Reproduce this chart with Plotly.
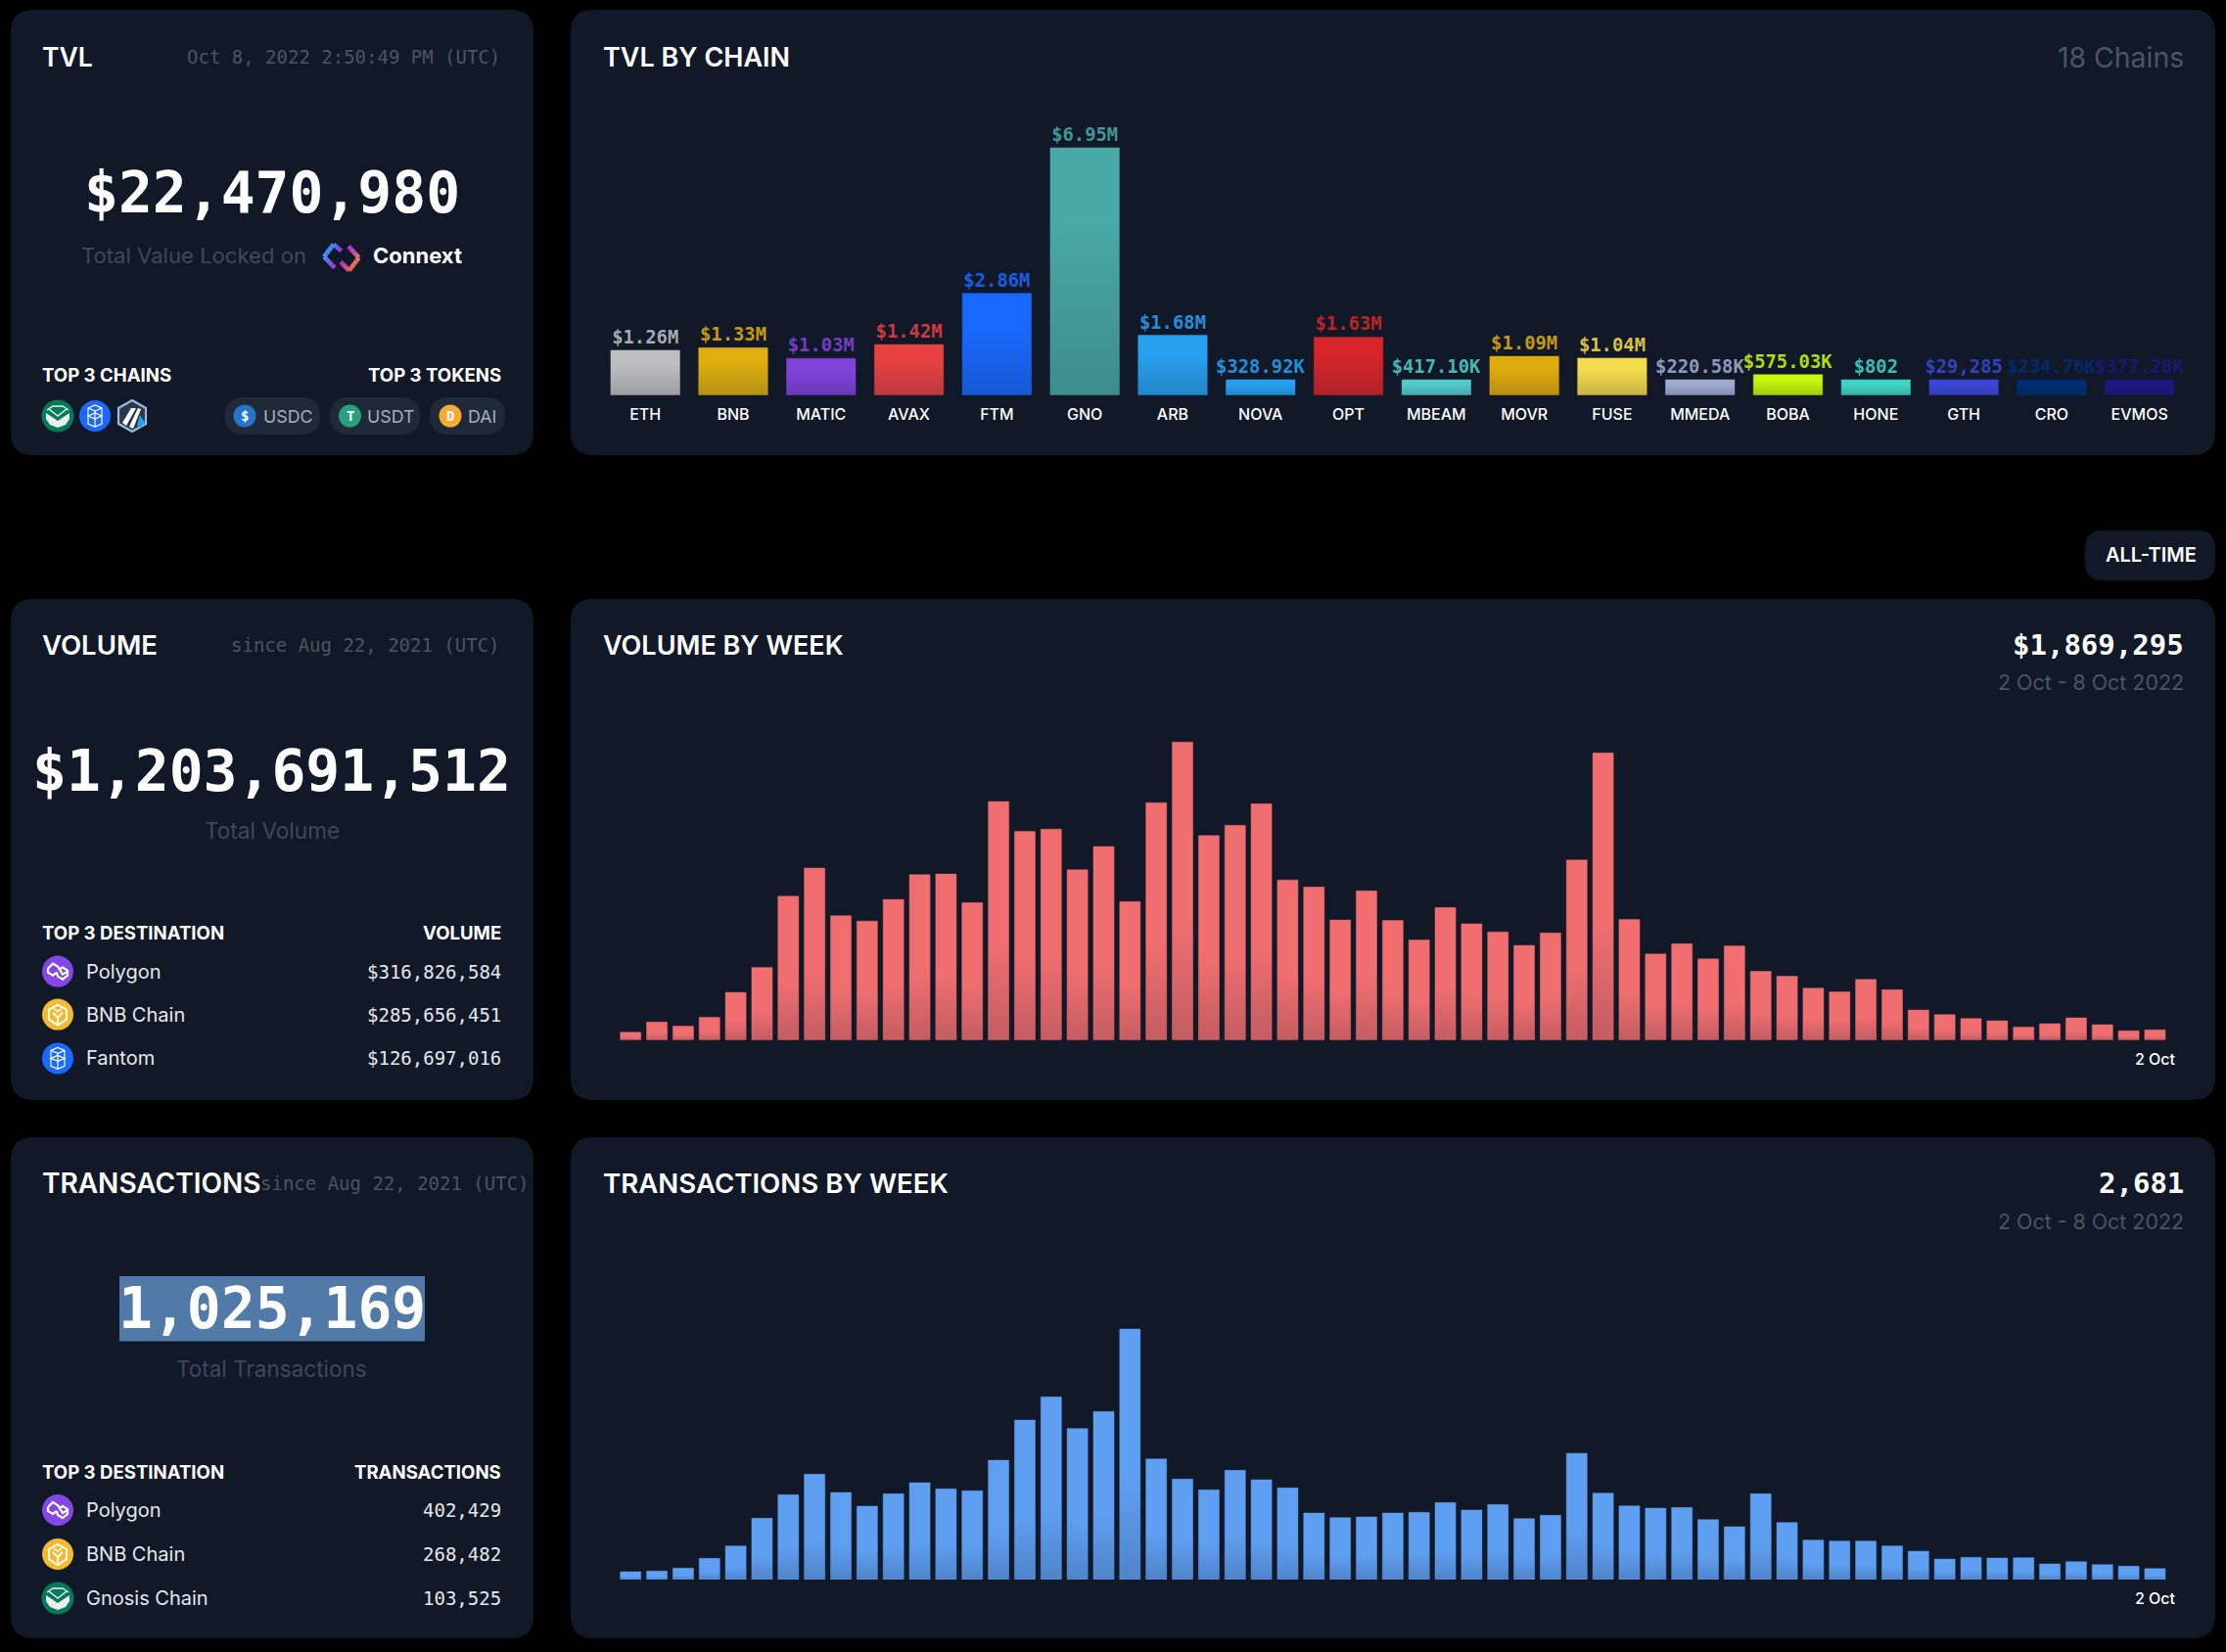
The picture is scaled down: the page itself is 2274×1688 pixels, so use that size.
import plotly.graph_objects as go
import pandas as pd

# ---------- data ----------
chain_names = ["ETH","BNB","MATIC","AVAX","FTM","GNO","ARB","NOVA","OPT","MBEAM","MOVR","FUSE","MMEDA","BOBA","HONE","GTH","CRO","EVMOS"]
chain_values = [1260000,1330000,1030000,1420000,2860000,6950000,1680000,328920,1630000,417100,1090000,1040000,220580,575030,802,29285,234760,377280]
chain_labels = ["$1.26M","$1.33M","$1.03M","$1.42M","$2.86M","$6.95M","$1.68M","$328.92K","$1.63M","$417.10K","$1.09M","$1.04M","$220.58K","$575.03K","$802","$29,285","$234.76K","$377.28K"]
chain_colors = ["#BEBFC1","#E0AE0F","#7F43DC","#E84142","#1969FF","#48A9A6","#28A0F0","#28A0F0","#D6252A","#53CBC9","#E0AB0D","#F4DB4C","#A0ADD3","#C6F70C","#3FD5C4","#3A47D5","#002D74","#1F1680"]
MIN_BAR_VALUE = 432000

week_starts = [d.strftime("%Y-%m-%d") for d in pd.date_range("2021-08-22", "2022-10-02", freq="7D")]
volume_millions = [1.45,3.32,2.59,4.22,8.80,13.45,26.6,31.8,23.0,22.0,26.0,30.6,30.7,25.4,44.1,38.6,39.0,31.5,35.8,25.6,43.9,55.1,37.8,39.7,43.7,29.6,28.3,22.2,27.6,22.1,18.5,24.5,21.5,20.0,17.5,19.8,33.3,53.1,22.3,15.9,17.8,15.0,17.4,12.7,11.8,9.6,8.9,11.2,9.3,5.55,4.70,3.98,3.56,2.41,3.02,4.10,2.83,1.69,1.87]
transactions = [1892,2050,2760,5125,8122,14824,20501,25469,21053,17741,20738,23418,21920,21447,28859,38558,44156,36507,40608,60557,29175,24286,21684,26415,24128,22157,16085,14982,15139,16085,16243,18609,16795,18136,14745,15533,30515,20895,17820,17268,17426,14508,12774,20738,13799,9541,9304,9304,8122,6860,4968,5362,5204,5283,3785,4337,3627,3233,2681]
week_tick_vals = ["2022-10-02"]
week_tick_text = ["2 Oct"]

W, H = 2274, 1688
BG = "#000000"; PANEL = "#111827"; PILL = "#1F2937"
MUTED = "#3F4959"; DATE = "#4B5563"; WHITE = "#FFFFFF"; SOFT = "#E5E7EB"
SANS = "Inter"; MONO = "DejaVu Sans Mono"


def fx(x): return x / W
def fy(y): return 1 - y / H


def rrect(x0, y0, x1, y1, r):
    pts = [("M", x0 + r, y0), ("L", x1 - r, y0), ("Q", x1, y0, x1, y0 + r), ("L", x1, y1 - r),
           ("Q", x1, y1, x1 - r, y1), ("L", x0 + r, y1), ("Q", x0, y1, x0, y1 - r), ("L", x0, y0 + r),
           ("Q", x0, y0, x0 + r, y0)]
    out = []
    for p in pts:
        vals = p[1:]
        coords = []
        for i in range(0, len(vals), 2):
            coords.append(f"{fx(vals[i]):.6f},{fy(vals[i + 1]):.6f}")
        out.append(p[0] + " ".join(coords))
    return " ".join(out) + " Z"


def poly(points, closed=False):
    s = "M" + " L".join(f"{fx(a):.6f},{fy(b):.6f}" for a, b in points)
    return s + (" Z" if closed else "")


shapes, annos = [], []


def card(x0, y0, x1, y1, r=23, color=PANEL):
    shapes.append(dict(type="path", xref="paper", yref="paper", path=rrect(x0, y0, x1, y1, r), fillcolor=color,
                       line=dict(width=0), layer="below"))


def disc(cx, cy, r, color, layer="above"):
    shapes.append(dict(type="circle", xref="paper", yref="paper", x0=fx(cx - r), x1=fx(cx + r), y0=fy(cy + r),
                       y1=fy(cy - r), fillcolor=color, line=dict(width=0), layer=layer))


def stroke(points, color, w=1.5, closed=False, fill=None):
    d = dict(type="path", xref="paper", yref="paper", path=poly(points, closed), line=dict(color=color, width=w), layer="above")
    if fill:
        d["fillcolor"] = fill
    shapes.append(d)


def text(x, y, s, size, color=WHITE, anchor="left", family=SANS, weight=400):
    annos.append(dict(xref="paper", yref="paper", x=fx(x), y=fy(y), text=s, showarrow=False, xanchor=anchor,
                      yanchor="middle", borderpad=0, borderwidth=0,
                      font=dict(size=size, color=color, family=family, weight=weight)))


def rel(cx, cy, pts, k=1.0):
    return [(cx + a * k, cy + b * k) for a, b in pts]


def ic_polygon(cx, cy):
    disc(cx, cy, 16, "#8247E5")
    stroke(rel(cx, cy, [(-10, -3), (-5, -8), (0, -5), (5, 3), (10, 0)]), WHITE, 2.2)
    stroke(rel(cx, cy, [(-10, -3), (-10, 1), (-5, 4), (-1, 1)]), WHITE, 2.2)
    stroke(rel(cx, cy, [(1, -2), (5, -4), (10, -1), (10, 4), (5, 8), (0, 5), (-1, 1)]), WHITE, 2.2)


def ic_bnb(cx, cy):
    disc(cx, cy, 16, "#F3BA2F")
    stroke(rel(cx, cy, [(0, -10), (9, -5), (9, 5), (0, 11), (-9, 5), (-9, -5)]), WHITE, 2, closed=True)
    stroke(rel(cx, cy, [(-5, -2), (0, 3), (5, -2)]), WHITE, 2)
    stroke(rel(cx, cy, [(0, 3), (0, 9)]), WHITE, 2)
    stroke(rel(cx, cy, [(-4, -6), (0, -3), (4, -6)]), WHITE, 1.5)


def ic_fantom(cx, cy):
    disc(cx, cy, 16, "#1969FF")
    stroke(rel(cx, cy, [(-7, -8), (0, -11), (7, -8), (7, 8), (0, 11), (-7, 8)]), WHITE, 1.2, closed=True)
    stroke(rel(cx, cy, [(-7, -8), (0, -5), (7, -8)]), WHITE, 1.2)
    stroke(rel(cx, cy, [(-7, 0), (0, -3), (7, 0), (0, 3)]), WHITE, 1.2, closed=True)
    stroke(rel(cx, cy, [(0, -5), (0, 11)]), WHITE, 1.2)


def ic_gnosis(cx, cy):
    disc(cx, cy, 16.5, "#04795B")
    shapes.append(dict(type="path", xref="paper", yref="paper", layer="above", fillcolor="#EDEFEC", line=dict(width=0),
                       path=poly(rel(cx, cy, [(-12, -3), (-6, 1), (0, 5), (6, 1), (12, -3), (12, 3), (8, 9), (0, 12), (-8, 9), (-12, 3)]), True)))
    stroke(rel(cx, cy, [(-11, -6), (-5, -10), (5, -10), (11, -6)]), "#EDEFEC", 1.3)
    stroke(rel(cx, cy, [(-9, -7), (0, 0), (9, -7)]), "#EDEFEC", 1.4)


def ic_arb(cx, cy):
    pts = [(0, -16), (14, -8), (14, 8), (0, 16), (-14, 8), (-14, -8)]
    stroke(rel(cx, cy, pts), "#96BEDC", 2.2, closed=True, fill="#2D374B")
    shapes.append(dict(type="path", xref="paper", yref="paper", layer="above", fillcolor="#FFFFFF", line=dict(width=0),
                       path=poly(rel(cx, cy, [(-10, 7), (-1, -8), (4, -8), (-6, 10)]), True)))
    shapes.append(dict(type="path", xref="paper", yref="paper", layer="above", fillcolor="#FFFFFF", line=dict(width=0),
                       path=poly(rel(cx, cy, [(-3, 11), (6, -8), (9, -7), (1, 13)]), True)))
    shapes.append(dict(type="path", xref="paper", yref="paper", layer="above", fillcolor="#28A0F0", line=dict(width=0),
                       path=poly(rel(cx, cy, [(5, 10), (8, -1), (13, 7), (9, 12)]), True)))


def ic_token(cx, cy, color, glyph):
    disc(cx, cy, 11.5, color)
    text(cx, cy + 0.5, glyph, 14, WHITE, "center", MONO, 700)


def connext_logo():
    def mix(a, b, t):
        return "#%02x%02x%02x" % tuple(int(a[i] + (b[i] - a[i]) * t) for i in range(3))
    def grad(p0, p1, c0, c1, n=4):
        for i in range(n):
            a, b = i / n, (i + 1) / n
            stroke([(p0[0] + (p1[0] - p0[0]) * a, p0[1] + (p1[1] - p0[1]) * a),
                    (p0[0] + (p1[0] - p0[0]) * b, p0[1] + (p1[1] - p0[1]) * b)], mix(c0, c1, (a + b) / 2), 4.6)
    P = lambda a, b: (310 + a / 3, 235 + b / 3)
    blue, blue2, pur, ora = (62, 140, 250), (70, 150, 255), (175, 45, 235), (235, 110, 80)
    grad(P(116, 64), P(92, 44), pur, blue)
    grad(P(92, 44), P(63, 82), blue, blue2)
    grad(P(63, 82), P(96, 116), blue2, pur)
    grad(P(138, 50), P(170, 85), pur, (230, 115, 110))
    grad(P(170, 85), P(140, 124), (230, 115, 110), ora)
    grad(P(140, 124), P(114, 98), ora, pur)


# ---------- cards ----------
card(11, 10, 545, 465); card(583, 10, 2263, 465)
card(2130, 542, 2263, 593, 18)
card(11, 612, 545, 1124); card(583, 612, 2263, 1124)
card(11, 1162, 545, 1674); card(583, 1162, 2263, 1674)

TITLE = 27.5
# ---------- TVL card ----------
text(42.5, 58, "TVL", 26.5, WHITE, weight=600)
text(511, 58, "Oct 8, 2022 2:50:49 PM (UTC)", 19, DATE, "right", MONO)
text(277.5, 197.5, "$22,470,980", 58, WHITE, "center", MONO, 700)
text(83, 261, "Total Value Locked on", 22.1, MUTED)
text(380.5, 261, "Connext", 22, WHITE, weight=700)
connext_logo()
text(42.5, 383, "TOP 3 CHAINS", 18.6, WHITE, weight=700)
text(512, 383, "TOP 3 TOKENS", 18.6, WHITE, "right", weight=700)
ic_gnosis(59, 425); ic_fantom(97, 425); ic_arb(135, 425)
for x0, x1 in [(230, 327), (337, 429), (439, 516)]:
    card(x0, 406, x1, 444, 19, PILL)
ic_token(250, 425, "#2775CA", "$"); ic_token(357.5, 425, "#26A17B", "T"); ic_token(460, 425, "#F5AC37", "D")
text(268.5, 425, "USDC", 17.8, "#A8AFBA"); text(375, 425, "USDT", 17.8, "#A8AFBA"); text(477.5, 425, "DAI", 17.8, "#A8AFBA")

# ---------- right headers ----------
text(615.5, 58, "TVL BY CHAIN", 27, WHITE, weight=600)
text(2231, 58, "18 Chains", 28.4, DATE, "right")
text(2197, 566.7, "ALL-TIME", 20, WHITE, "center", weight=600)
text(615.5, 659, "VOLUME BY WEEK", 27, WHITE, weight=600)
text(2231, 659, "$1,869,295", 29, WHITE, "right", MONO, 700)
text(2231, 697, "2 Oct - 8 Oct 2022", 21.4, DATE, "right")
text(615.5, 1209, "TRANSACTIONS BY WEEK", 27.6, WHITE, weight=600)
text(2231, 1209, "2,681", 29, WHITE, "right", MONO, 700)
text(2231, 1248, "2 Oct - 8 Oct 2022", 21.4, DATE, "right")

# ---------- volume card ----------
text(42.5, 659, "VOLUME", TITLE, WHITE, weight=600)
text(511, 659, "since Aug 22, 2021 (UTC)", 19, DATE, "right", MONO)
text(277.5, 787.5, "$1,203,691,512", 58, WHITE, "center", MONO, 700)
text(277.5, 848.6, "Total Volume", 22.6, MUTED, "center")
text(42.5, 953, "TOP 3 DESTINATION", 18.6, WHITE, weight=700)
text(512, 953, "VOLUME", 18.6, WHITE, "right", weight=700)
for y, name, val, icon in [(992.6, "Polygon", "$316,826,584", ic_polygon), (1036.6, "BNB Chain", "$285,656,451", ic_bnb),
                           (1081.4, "Fantom", "$126,697,016", ic_fantom)]:
    icon(59, y)
    text(87.5, y, name, 20, SOFT)
    text(512, y, val, 19, SOFT, "right", MONO)

# ---------- transactions card ----------
text(42.5, 1209, "TRANSACTIONS", 28, WHITE, weight=600)
text(541, 1209, "since Aug 22, 2021 (UTC)", 19, DATE, "right", MONO)
card(122, 1304, 434, 1370.6, 0.01, "#527AA8")
text(277.5, 1336.5, "1,025,169", 58, WHITE, "center", MONO, 700)
text(277.5, 1398.5, "Total Transactions", 22.5, MUTED, "center")
text(42.5, 1504, "TOP 3 DESTINATION", 18.6, WHITE, weight=700)
text(512, 1504, "TRANSACTIONS", 18.6, WHITE, "right", weight=700)
for y, name, val, icon in [(1543, "Polygon", "402,429", ic_polygon), (1588, "BNB Chain", "268,482", ic_bnb),
                           (1633, "Gnosis Chain", "103,525", ic_gnosis)]:
    icon(59, y)
    text(87.5, y, name, 20, SOFT)
    text(512, y, val, 19, SOFT, "right", MONO)


def rgba(h, a):
    return f"rgba({int(h[1:3], 16)},{int(h[3:5], 16)},{int(h[5:7], 16)},{a})"


# ---------- charts ----------
fig = go.Figure()
fig.add_trace(go.Bar(x=chain_names, y=[max(v, MIN_BAR_VALUE) for v in chain_values], xaxis="x", yaxis="y",
                     marker=dict(color=chain_colors, line=dict(width=1, color=[rgba(c, 0.45) for c in chain_colors])),
                     text=chain_labels, textposition="outside", textangle=0, constraintext="none", cliponaxis=False,
                     textfont=dict(family=MONO, size=18.85, weight=700, color=[rgba(c, 0.88) for c in chain_colors]), hoverinfo="skip"))
fig.add_trace(go.Bar(x=week_starts, y=volume_millions, xaxis="x2", yaxis="y2",
                     marker=dict(color="#F06E70", line=dict(width=1, color=rgba("#F06E70", 0.45))), hoverinfo="skip"))
fig.add_trace(go.Bar(x=week_starts, y=transactions, xaxis="x3", yaxis="y3",
                     marker=dict(color="#5F9FF2", line=dict(width=1, color=rgba("#5F9FF2", 0.45))), hoverinfo="skip"))


def xax(x0, x1, y_anchor, n, **kw):
    return dict(domain=[fx(x0), fx(x1)], anchor=y_anchor, type="category", range=[-0.5, n - 0.5], showgrid=False,
                zeroline=False, showline=False, ticks="", fixedrange=True, ticklabelstandoff=8,
                tickfont=dict(family=SANS, size=16, color=WHITE, weight=500), tickangle=0, **kw)


def yax(top, base, rng, x_anchor):
    return dict(domain=[fy(base), fy(top)], anchor=x_anchor, range=[0, rng], visible=False, fixedrange=True)


BW = 630.8, 2214.9
fig.update_layout(
    width=W, height=H, autosize=False, margin=dict(l=0, r=0, t=0, b=0, autoexpand=False), paper_bgcolor=BG, plot_bgcolor="rgba(0,0,0,0)",
    showlegend=False, bargap=0.215, shapes=shapes, annotations=annos, font=dict(family=SANS, color=WHITE),
    xaxis=xax(614.3, 2230.6, "y", len(chain_names), tickmode="array", tickvals=chain_names, ticktext=chain_names),
    yaxis=yax(100, 403.7, (403.7 - 100) / 36.36e-6, "x"),
    xaxis2=xax(*BW, "y2", len(week_starts), tickmode="array", tickvals=week_tick_vals, ticktext=week_tick_text),
    yaxis2=yax(720, 1062.7, (1062.7 - 720) * 0.181, "x2"),
    xaxis3=xax(*BW, "y3", len(week_starts), tickmode="array", tickvals=week_tick_vals, ticktext=week_tick_text),
    yaxis3=yax(1270, 1614, (1614 - 1270) * 236.55, "x3"),
)

POST = """
document.documentElement.style.background='#000';
document.body.style.margin='0';document.body.style.background='#000';document.body.style.overflow='hidden';
(function(){
  var gd=document.getElementById('{plot_id}');
  var NS='http://www.w3.org/2000/svg';
  function apply(){
    var svg=gd.querySelector('.main-svg'); if(!svg) return;
    var defs=svg.querySelector('defs');
    gd.querySelectorAll('.barlayer .trace').forEach(function(tr,ti){
      var start=ti===0?0.3:0.6;
      tr.querySelectorAll('.point path').forEach(function(p,pi){
        var c=p.dataset.c||p.style.fill; p.dataset.c=c;
        var id='grad'+ti+'_'+pi, g=defs.querySelector('#'+id);
        if(!g){
          g=document.createElementNS(NS,'linearGradient');g.setAttribute('id',id);
          g.setAttribute('x1','0');g.setAttribute('y1','0');g.setAttribute('x2','0');g.setAttribute('y2','1');
          [[0,1],[start,1],[1,0.8]].forEach(function(s){
            var e=document.createElementNS(NS,'stop');e.setAttribute('offset',s[0]);
            e.setAttribute('stop-color',c);e.setAttribute('stop-opacity',s[1]);g.appendChild(e);});
          defs.appendChild(g);
        }
        p.style.fill='url(#'+id+')';
      });
    });
  }
  apply(); if(gd.on) gd.on('plotly_afterplot',apply);
  window.addEventListener('load',function(){apply();setTimeout(apply,200);});
})();
"""

fig.write_html("out.html", config={"displayModeBar": False}, post_script=POST)
